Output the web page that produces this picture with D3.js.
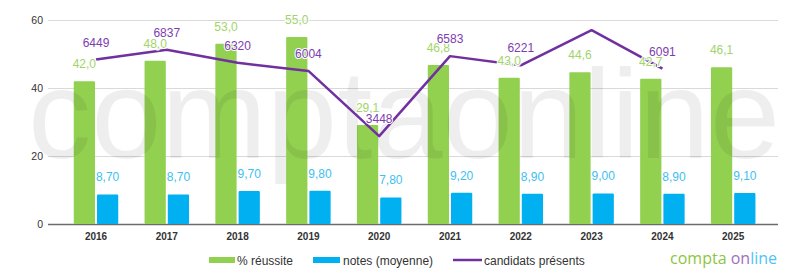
<!DOCTYPE html>
<html>
<head>
<meta charset="utf-8">
<script src="https://cdn.jsdelivr.net/npm/d3@7"></script>
<style>
  html, body { margin: 0; padding: 0; background: #fff; }
  svg { display: block; font-family: Arial, "Liberation Sans", sans-serif; }
</style>
</head>
<body>
<svg id="chart" width="790" height="270"></svg>
<script>
// ── Data ─────────────────────────────────────────
const years      = ['2016','2017','2018','2019','2020','2021','2022','2023','2024','2025'];
const reussite   = [42.0, 48.0, 53.0, 55.0, 29.1, 46.8, 43.0, 44.6, 42.7, 46.1];
const notes      = [8.70, 8.70, 9.70, 9.80, 7.80, 9.20, 8.90, 9.00, 8.90, 9.10];
const candidats  = [6449, 6837, 6320, 6004, 3448, 6583, 6221, 7600, 6091, null];
const candLabel  = [true, true, true, true, true, true, true, false, true, false];
const yTicks     = [0, 20, 40, 60];
const legendKeys = ['% réussite', 'notes (moyenne)', 'candidats présents'];

// ── Colours ──────────────────────────────────────
const green      = '#92d050';
const greenText  = '#a2d46a';
const blue       = '#00b0f0';
const blueText   = '#3ec0f0';
const purple     = '#7030a0';
const purpleText = '#7e3cb0';

const svg = d3.select('#chart');

// ── Scales ───────────────────────────────────────
const x  = d3.scaleBand().domain(years).range([60.6, 768.6]);
const y  = d3.scaleLinear().domain([0, 60]).range([224, 20]);
const y2 = d3.scaleLinear().domain([0, 8000]).range([224, 20]);
const cx = d => x(d) + x.bandwidth() / 2;
const bw = x.bandwidth() * 0.3;

// ── Grid + y labels ──────────────────────────────
const grid = svg.append('g');
grid.selectAll('line')
  .data(yTicks)
  .enter().append('line')
  .attr('x1', 48).attr('x2', 778)
  .attr('y1', d => Math.round(y(d)) + 0.5)
  .attr('y2', d => Math.round(y(d)) + 0.5)
  .attr('stroke', d => d === 0 ? '#6b6b6b' : '#d9d9d9')
  .attr('stroke-width', d => d === 0 ? 1.5 : 1);

grid.selectAll('text')
  .data(yTicks)
  .enter().append('text')
  .attr('x', 43)
  .attr('y', d => y(d) + 4)
  .attr('text-anchor', 'end')
  .attr('font-size', 10.5)
  .attr('fill', '#333')
  .text(d => d);

// ── Bars ─────────────────────────────────────────
svg.append('g').selectAll('rect')
  .data(years)
  .enter().append('rect')
  .attr('x', d => cx(d) - bw - 1)
  .attr('y', (d, i) => y(reussite[i]))
  .attr('width', bw)
  .attr('height', (d, i) => y(0) - y(reussite[i]))
  .attr('rx', 1)
  .attr('fill', green);

svg.append('g').selectAll('rect')
  .data(years)
  .enter().append('rect')
  .attr('x', d => cx(d) + 1)
  .attr('y', (d, i) => y(notes[i]))
  .attr('width', bw)
  .attr('height', (d, i) => y(0) - y(notes[i]))
  .attr('rx', 1)
  .attr('fill', blue);

// ── Watermark ────────────────────────────────────
svg.append('text')
  .attr('x', 28)
  .attr('y', 158)
  .attr('font-size', 127)
  .attr('textLength', 752)
  .attr('lengthAdjust', 'spacingAndGlyphs')
  .attr('fill', '#000')
  .attr('fill-opacity', 0.065)
  .text('comptaonline');

// ── x labels ─────────────────────────────────────
svg.append('g').selectAll('text')
  .data(years)
  .enter().append('text')
  .attr('x', d => cx(d))
  .attr('y', 240)
  .attr('text-anchor', 'middle')
  .attr('font-size', 10)
  .attr('font-weight', 'bold')
  .attr('fill', '#333')
  .text(d => d);

// ── Line ─────────────────────────────────────────
const lineData = years.map((d, i) => ({ year: d, v: candidats[i], show: candLabel[i] }))
  .filter(d => d.v != null);

svg.append('path')
  .datum(lineData)
  .attr('d', d3.line().x(d => cx(d.year)).y(d => y2(d.v)))
  .attr('fill', 'none')
  .attr('stroke', purple)
  .attr('stroke-width', 2.5)
  .attr('stroke-linejoin', 'round');

// ── Data labels ──────────────────────────────────
const fmt1 = d3.format('.1f');
const fmt2 = d3.format('.2f');
const comma = s => s.replace('.', ',');

svg.append('g').selectAll('text')
  .data(years)
  .enter().append('text')
  .attr('x', d => cx(d) - bw / 2 - 1)
  .attr('y', (d, i) => y(reussite[i]) - 13)
  .attr('text-anchor', 'middle')
  .attr('font-size', 12)
  .attr('fill', greenText)
  .attr('stroke', '#fff').attr('stroke-width', 2).attr('paint-order', 'stroke')
  .text((d, i) => comma(fmt1(reussite[i])));

svg.append('g').selectAll('text')
  .data(years)
  .enter().append('text')
  .attr('x', d => cx(d) + bw / 2 + 1)
  .attr('y', (d, i) => y(notes[i]) - 13)
  .attr('text-anchor', 'middle')
  .attr('font-size', 12)
  .attr('fill', blueText)
  .text((d, i) => comma(fmt2(notes[i])));

svg.append('g').selectAll('text')
  .data(lineData.filter(d => d.show))
  .enter().append('text')
  .attr('x', d => cx(d.year))
  .attr('y', d => y2(d.v) - 13)
  .attr('text-anchor', 'middle')
  .attr('font-size', 12)
  .attr('fill', purpleText)
  .attr('stroke', '#fff').attr('stroke-width', 2).attr('paint-order', 'stroke')
  .text(d => d.v);

// ── Legend ───────────────────────────────────────
const lg = svg.append('g').attr('font-size', 12).attr('fill', '#333');
lg.append('rect').attr('x', 209).attr('y', 257).attr('width', 26).attr('height', 6).attr('fill', green);
lg.append('text').attr('x', 237).attr('y', 264.5).text(legendKeys[0]);
lg.append('rect').attr('x', 313).attr('y', 257).attr('width', 27).attr('height', 6).attr('fill', blue);
lg.append('text').attr('x', 343).attr('y', 264.5).text(legendKeys[1]);
lg.append('line').attr('x1', 453).attr('x2', 482).attr('y1', 260).attr('y2', 260)
  .attr('stroke', purple).attr('stroke-width', 2.5);
lg.append('text').attr('x', 484).attr('y', 264.5).text(legendKeys[2]);

// ── Logo ─────────────────────────────────────────
const logo = svg.append('text')
  .attr('x', 777).attr('y', 264)
  .attr('text-anchor', 'end')
  .attr('font-family', '"Open Sans", sans-serif')
  .attr('font-size', 16);
logo.append('tspan').attr('fill', '#8cc63f').text('compta');
logo.append('tspan').attr('fill', '#a070c0').text(' on');
logo.append('tspan').attr('fill', '#4fc3f7').text('line');
</script>
</body>
</html>
